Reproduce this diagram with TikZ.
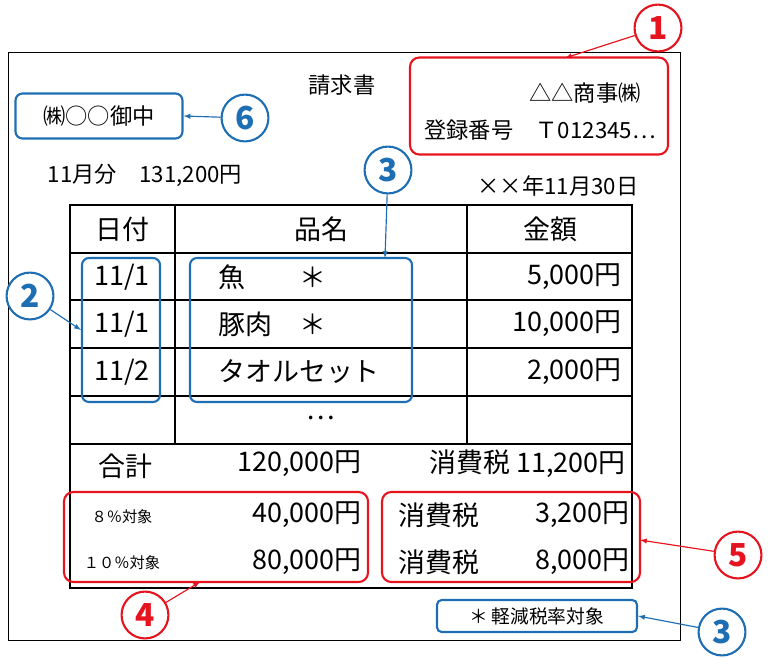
\documentclass[tikz,border=0pt]{standalone}
\usepackage{fontspec}
\setmainfont{Noto Sans CJK JP}
\definecolor{rr}{RGB}{230,20,30}
\definecolor{bb}{RGB}{30,110,180}
\begin{document}
\begin{tikzpicture}[x=0.03cm,y=-0.03cm,
 t/.style={inner sep=0,font=\fontsize{23}{25}\selectfont},
 s/.style={inner sep=0,font=\fontsize{19}{21}\selectfont},
 rbox/.style={draw=rr,line width=1.8pt,rounded corners=8pt},
 bbox/.style={draw=bb,line width=1.8pt,rounded corners=6pt},
 rc/.style={circle,draw=rr,fill=white,line width=1.8pt,text=rr,minimum size=40,inner sep=0,font=\fontsize{27}{27}\selectfont\bfseries},
 bc/.style={circle,draw=bb,fill=white,line width=1.8pt,text=bb,minimum size=40,inner sep=0,font=\fontsize{27}{27}\selectfont\bfseries},
 rar/.style={draw=rr,line width=1pt,-latex},
 bar/.style={draw=bb,line width=1pt,-latex},
 thick line/.style={line width=2pt}]
\useasboundingbox (0,0) rectangle (768,666);
\draw[line width=0.8pt] (8,52) rectangle (680,640);
\node[s] (title) at (342,85) {請求書};
\node[rbox,minimum width=258*0.03cm,minimum height=97*0.03cm] (b1) at (539,106) {};
\node[s] at (585,93) {△△商事㈱};
\node[s] at (540,130) {登録番号\quad Ｔ012345…};
\node[rc] (c1) at (658,28) {1};
\coordinate (b1t) at (565,58);
\draw[rar] (c1) -- (b1t);
\node[bbox,minimum width=167*0.03cm,minimum height=45*0.03cm] (b6) at (99,116) {};
\node[s] at (99,116) {㈱○○御中};
\node[bc] (c6) at (245,118) {6};
\draw[bar] (c6) -- (b6.east);
\node[s] at (145,175) {11月分\quad 131,200円};
\node[s] at (558,186) {××年11月30日};
% table
\draw[thick line] (70,205) rectangle (632,588);
\foreach \y in {253,300,348,396,444} \draw[thick line] (70,\y) -- (632,\y);
\foreach \x in {175,467} \draw[thick line] (\x,205) -- (\x,444);
\node[t] at (122,229) {日付};
\node[t] at (321,229) {品名};
\node[t] at (550,229) {金額};
\node[t] at (122,277) {11/1};
\node[t] at (122,324) {11/1};
\node[t] at (122,372) {11/2};
\node[t,anchor=west] at (218,277) {魚\qquad ＊};
\node[t,anchor=west] at (218,324) {豚肉\quad ＊};
\node[t,anchor=west] at (218,372) {タオルセット};
\node[t] at (321,418) {…};
\node[t,anchor=east] at (622,277) {5,000円};
\node[t,anchor=east] at (622,324) {10,000円};
\node[t,anchor=east] at (622,372) {2,000円};
\node[t] at (125,466) {合計};
\node[t,anchor=east] at (362,464) {120,000円};
\node[t,anchor=east] at (626,464) {消費税\ 11,200円};
\node[inner sep=0,font=\fontsize{13}{15}\selectfont] at (122,517) {８％対象};
\node[inner sep=0,font=\fontsize{13}{15}\selectfont] at (122,563) {１０％対象};
\node[t,anchor=east] at (362,515) {40,000円};
\node[t,anchor=east] at (362,562) {80,000円};
\node[t,anchor=west] at (398,515) {消費税};
\node[t,anchor=west] at (398,562) {消費税};
\node[t,anchor=east] at (630,515) {3,200円};
\node[t,anchor=east] at (630,562) {8,000円};
% highlight boxes
\node[bbox,minimum width=78*0.03cm,minimum height=144*0.03cm] (b2) at (121,330) {};
\node[bc] (c2) at (30,296) {2};
\draw[bar] (c2) -- (b2.west);
\node[bbox,minimum width=222*0.03cm,minimum height=144*0.03cm] (b3) at (301,330) {};
\node[bc] (c3) at (388,170) {3};
\coordinate (b3t) at (385,258);
\draw[bar] (c3) -- (b3t);
\node[rbox,minimum width=304*0.03cm,minimum height=90*0.03cm] (b4) at (216,537) {};
\node[rc] (c4) at (145,615) {4};
\coordinate (b4b) at (200,582);
\draw[rar] (c4) -- (b4b);
\node[rbox,minimum width=258*0.03cm,minimum height=90*0.03cm] (b5) at (511,537) {};
\node[rc] (c5) at (738,555) {5};
\coordinate (b5r) at (640,540);
\draw[rar] (c5) -- (b5r);
\node[bbox,rounded corners=4pt,minimum width=200*0.03cm,minimum height=32*0.03cm,font=\fontsize{16}{18}\selectfont] (b7) at (537,616) {＊\,軽減税率対象};
\node[bc] (c7) at (722,632) {3};
\draw[bar] (c7) -- (b7.east);
\end{tikzpicture}
\end{document}
